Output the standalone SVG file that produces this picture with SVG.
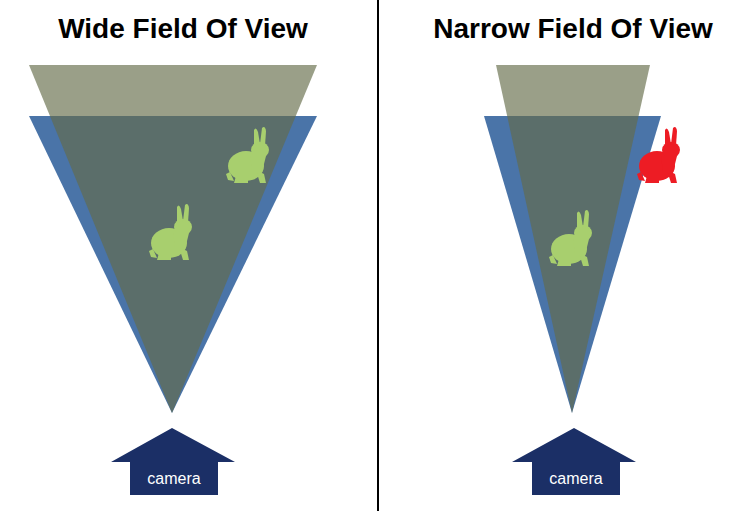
<svg xmlns="http://www.w3.org/2000/svg" width="750" height="511" viewBox="0 0 750 511">
<style>
.t{font-family:"Liberation Sans",Arial,sans-serif;font-weight:bold;font-size:28px;fill:#000;text-anchor:middle}
.c{font-family:"Liberation Sans",Arial,sans-serif;font-size:16px;fill:#fff;text-anchor:middle}
.blue{fill:#4a74a8}.gray{fill:#646c48;fill-opacity:0.65}.cam{fill:#1b2f66}
</style>
<defs>
<g id="rabbit">
<ellipse cx="20" cy="40" rx="18" ry="15"/>
<ellipse cx="34" cy="24" rx="9" ry="8"/>
<path d="M28 20 L28 4 Q30 0 32 6 L34 18 Z"/>
<path d="M34 18 L36 2 Q39 -1 40 5 L39 20 Z"/>
<path d="M4 46 L0 48 L2 54 L8 55 Z"/>
<path d="M10 50 L8 57 L22 57 L22 50 Z"/>
<path d="M30 44 L34 57 L40 57 L38 48 Z"/>
<path d="M24 30 L40 30 L36 46 L26 46 Z"/>
</g>
</defs>
<line x1="378" y1="0" x2="378" y2="511" stroke="#000" stroke-width="2"/>
<g id="wide">
<text class="t" x="183" y="38">Wide Field Of View</text>
<polygon class="blue" points="29,116 317,116 172,413"/>
<polygon class="gray" points="29,65 317,65 172,413"/>
<use href="#rabbit" fill="#a8cf6e" transform="translate(226,126)"/>
<use href="#rabbit" fill="#a8cf6e" transform="translate(149,203)"/>
</g>
<g id="narrow">
<text class="t" x="573" y="38">Narrow Field Of View</text>
<polygon class="blue" points="484,116 661,116 572,413"/>
<polygon class="gray" points="496,65 650,65 572,413"/>
<use href="#rabbit" fill="#a8cf6e" transform="translate(549,209)"/>
<use href="#rabbit" fill="#ed1c24" transform="translate(637,126)"/>
</g>
<g id="camera-left">
<polygon class="cam" points="172,428 235,462 218,462 218,495 130,495 130,462 111,462"/>
<text class="c" x="174" y="484">camera</text>
</g>
<g id="camera-right">
<polygon class="cam" points="574,428 636,462 620,462 620,495 532,495 532,462 512,462"/>
<text class="c" x="576" y="484">camera</text>
</g>
</svg>
